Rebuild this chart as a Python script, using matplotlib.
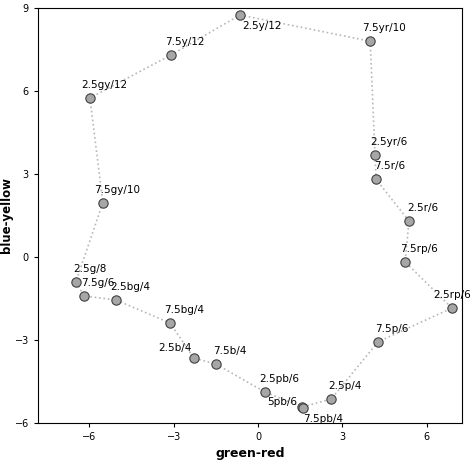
import matplotlib
matplotlib.use("Agg")
import matplotlib.pyplot as plt

# Munsell hues, in the order the outline connects them
labels = ["2.5y/12", "7.5yr/10", "2.5yr/6", "7.5r/6", "2.5r/6", "7.5rp/6",
          "2.5rp/6", "7.5p/6", "2.5p/4", "5pb/6", "2.5pb/6", "7.5b/4",
          "2.5b/4", "7.5bg/4", "2.5bg/4", "7.5g/6", "2.5g/8", "7.5gy/10",
          "2.5gy/12", "7.5y/12"]
green_red = [-0.64, 3.99, 4.16, 4.20, 5.37, 5.23, 6.90, 4.27, 2.60, 1.57,
             0.25, -1.49, -2.28, -3.13, -5.05, -6.19, -6.48, -5.52, -5.98, -3.10]
blue_yellow = [8.75, 7.80, 3.69, 2.80, 1.30, -0.18, -1.85, -3.07, -5.14, -5.43,
               -4.89, -3.88, -3.66, -2.39, -1.56, -1.41, -0.90, 1.96, 5.75, 7.30]
# extra point hidden under 5pb/6
extra_label, extra_x, extra_y = "7.5pb/4", 1.60, -5.45

# label offsets in pixels (default up-right)
special = {"2.5y/12": (22, -11), "2.5rp/6": (0, 13), "2.5b/4": (-19, 10),
           "5pb/6": (-20, 5)}

fig = plt.figure(figsize=(4.74, 4.74), dpi=100)
ax = fig.add_axes([0.08, 0.108, 0.895, 0.875])

xs = green_red + [green_red[0]]
ys = blue_yellow + [blue_yellow[0]]
ax.plot(xs, ys, ls=":", color="#b8b8b8", lw=1.2, zorder=1)
ax.scatter(green_red + [extra_x], blue_yellow + [extra_y], s=45,
           facecolor="#a6a6a6", edgecolor="#404040", linewidth=0.8, zorder=3)

for lab, x, y in zip(labels, green_red, blue_yellow):
    dx, dy = special.get(lab, (14, 13))
    ax.annotate(lab, (x, y), xytext=(dx, dy), textcoords="offset pixels",
                ha="center", va="center", fontsize=7.5)
ax.annotate(extra_label, (extra_x, extra_y), xytext=(20, -11),
            textcoords="offset pixels", ha="center", va="center", fontsize=7.5)

ax.set_xlim(-7.83, 7.26)
ax.set_ylim(-6, 9)
ax.set_xticks([-6, -3, 0, 3, 6])
ax.set_yticks([-6, -3, 0, 3, 6, 9])
ax.tick_params(labelsize=7, length=3)
ax.set_xlabel("green-red", fontweight="bold", fontsize=9)
ax.set_ylabel("blue-yellow", fontweight="bold", fontsize=8.5, labelpad=1)
ax.yaxis.set_label_coords(-0.058, 0.5)

fig.savefig("out.png", dpi=100)
